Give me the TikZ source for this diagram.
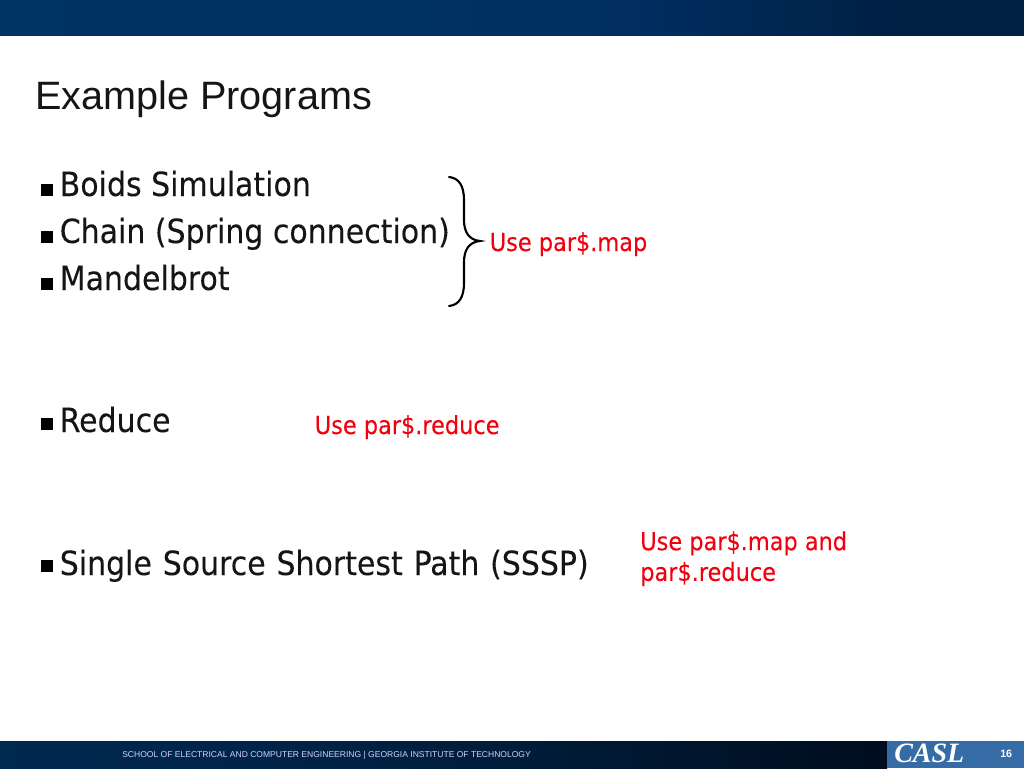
\documentclass[tikz,border=0pt]{standalone}
\usepackage{fontspec}
\setmainfont{Liberation Sans}
\newfontfamily\bodyfont[FakeBold=0.07]{DejaVu Sans Condensed}
\newfontfamily\casl{Liberation Serif}
\definecolor{redtxt}{HTML}{F20010}
\definecolor{inktxt}{HTML}{151515}
\definecolor{caslblue}{HTML}{366CA6}
\pgfdeclarehorizontalshading{headshade}{100bp}{rgb(0bp)=(0,0.2,0.4); rgb(25bp)=(0,0.2,0.4); rgb(40bp)=(0,0.2,0.39); rgb(56bp)=(0,0.18,0.38); rgb(68bp)=(0,0.13,0.27); rgb(75bp)=(0,0.13,0.26); rgb(100bp)=(0,0.13,0.26)}
\pgfdeclarehorizontalshading{footshade}{100bp}{rgb(0bp)=(0,0.16,0.31); rgb(25bp)=(0,0.16,0.31); rgb(40bp)=(0,0.14,0.28); rgb(55bp)=(0,0.11,0.22); rgb(75bp)=(0,0.05,0.12); rgb(100bp)=(0,0.05,0.12)}
\tikzset{
  bullettext/.style={anchor=base west,inner sep=0pt,font=\bodyfont\fontsize{25}{30}\selectfont,text=inktxt},
  redtext/.style={anchor=base west,inner sep=0pt,font=\bodyfont\fontsize{18.7}{23}\selectfont,text=redtxt,align=left},
  bulletmark/.style={fill=black,draw=none,inner sep=0pt,minimum size=8.6pt},
  brace/.style={draw=black,line width=1.6pt,line cap=round}
}
\begin{document}
\begin{tikzpicture}[x=0.75pt,y=-0.75pt]
\useasboundingbox (0,0) rectangle (1024,768);
\fill[white] (0,0) rectangle (1024,768);
\shade[shading=headshade,shading angle=0] (0,0) rectangle (1024,35.5);
\shade[shading=footshade,shading angle=0] (0,741) rectangle (887,768);
\fill[caslblue] (887,741) rectangle (1024,768);
\node[anchor=base west,inner sep=0pt,font=\fontsize{29.7}{32}\selectfont,text=inktxt] (title) at (35,109) {Example Programs};
\node[bullettext] (t1) at (59.5,196) {Boids Simulation};
\node[bullettext] (t2) at (59.5,243) {Chain (Spring connection)};
\node[bullettext] (t3) at (59.5,290) {Mandelbrot};
\node[bullettext] (t4) at (59.5,432) {Reduce};
\node[bullettext] (t5) at (59.5,575) {\spaceskip=8.1pt Single Source Shortest Path (SSSP)};
\node[bulletmark] (b1) at (47,190) {};
\node[bulletmark] (b2) at (47,237) {};
\node[bulletmark] (b3) at (47,284) {};
\node[bulletmark] (b4) at (47,424) {};
\node[bulletmark] (b5) at (47,566) {};
\coordinate (brtop) at (449,177);
\coordinate (brtip) at (480,241);
\coordinate (brbot) at (449,306);
\draw[brace] (brtop) .. controls (459,178) and (464,186) .. (464,200)
  -- (464,220) .. controls (464,232) and (469,240) .. (brtip)
  .. controls (469,242) and (464,250) .. (464,262)
  -- (464,283) .. controls (464,297) and (459,305) .. (brbot);
\node[redtext] (r1) at (489.5,251) {Use par\$.map};
\node[redtext] (r2) at (314.5,434) {Use par\$.reduce};
\node[redtext,anchor=north west] (r3) at (640,531) {Use par\$.map and\\par\$.reduce};
\node[anchor=base west,inner sep=0pt,font=\fontsize{6.4}{8}\selectfont,text=white!82!blue] (foot) at (122,757) {SCHOOL OF ELECTRICAL AND COMPUTER ENGINEERING | GEORGIA INSTITUTE OF TECHNOLOGY};
\node[anchor=base west,inner sep=0pt,font=\casl\bfseries\itshape\fontsize{21}{22}\selectfont,text=white] (logo) at (894,762.5) {CASL};
\node[anchor=base west,inner sep=0pt,font=\bfseries\fontsize{8}{9}\selectfont,text=white] (page) at (1000,757) {16};
\end{tikzpicture}
\end{document}
